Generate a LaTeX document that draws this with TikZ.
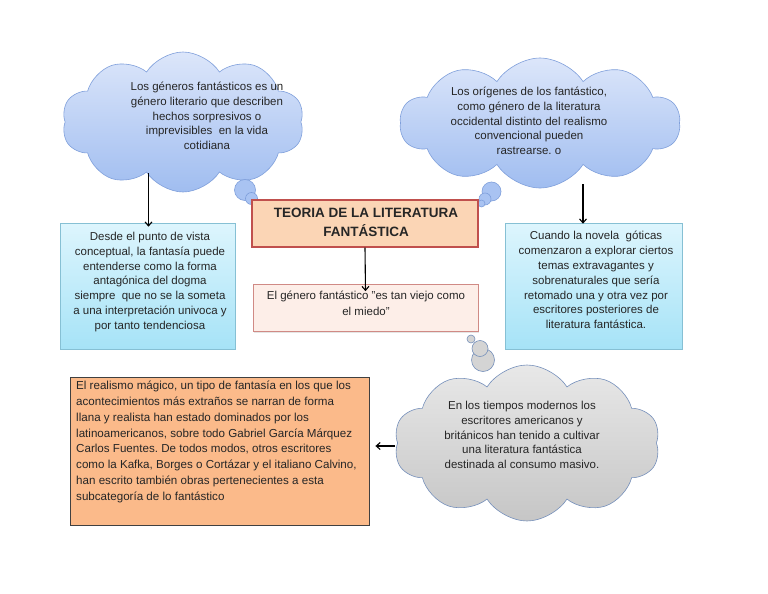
\documentclass[tikz,border=0pt]{standalone}
\usepackage{fontspec}
\setmainfont{Liberation Sans}
\usetikzlibrary{shapes.symbols,arrows.meta,shadows}
\frenchspacing
\definecolor{cbTop}{HTML}{DCE6FA}
\definecolor{cbBot}{HTML}{A0BDF0}
\definecolor{cbLine}{HTML}{7F9FDB}
\definecolor{cgTop}{HTML}{E8E8E8}
\definecolor{cgBot}{HTML}{C6C6C6}
\definecolor{cgLine}{HTML}{7690BB}
\definecolor{titFill}{HTML}{FBD5B5}
\definecolor{titLine}{HTML}{C0504D}
\definecolor{subFill}{HTML}{FDEEE8}
\definecolor{subLine}{HTML}{D08A85}
\definecolor{bxTop}{HTML}{DDF5FD}
\definecolor{bxBot}{HTML}{A6E3F7}
\definecolor{bxLine}{HTML}{86C0D4}
\definecolor{orFill}{HTML}{FBBA8A}
\definecolor{orLine}{HTML}{404040}
\tikzset{
  txt/.style={font=\fontsize{11.5}{14.7}\selectfont, align=center, inner sep=0pt, text=black!85},
  bluecloud/.style={cloud, cloud puffs=10, cloud puff arc=115, draw=cbLine, line width=0.6pt, top color=cbTop, bottom color=cbBot, inner sep=0pt},
  greycloud/.style={cloud, cloud puffs=10, cloud puff arc=115, draw=cgLine, line width=0.6pt, top color=cgTop, bottom color=cgBot, inner sep=0pt},
  bub/.style={circle, draw=cbLine, line width=0.6pt, fill=cbBot!85!cbTop, inner sep=0pt},
  gbub/.style={circle, draw=cgLine, line width=0.6pt, fill=cgBot!60!cgTop, inner sep=0pt},
  bluebox/.style={rectangle, draw=bxLine, line width=0.6pt, top color=bxTop, bottom color=bxBot, inner sep=0pt, drop shadow={shadow xshift=1pt, shadow yshift=-1pt, opacity=0.25}},
  arr/.style={-{Straight Barb[length=4pt,width=7pt]}, line width=1.1pt, black},
}
\begin{document}
\begin{tikzpicture}[x=1pt,y=-1pt]
\useasboundingbox (0,0) rectangle (768,594);
\fill[white] (0,0) rectangle (768,594);
% clouds
\node[bluecloud, minimum width=242, minimum height=140] (c1) at (183,122) {};
\node[bub, minimum size=21] (c1b1) at (245,190) {};
\node[bub, minimum size=12] (c1b2) at (251.5,198.5) {};
\node[bub, minimum size=7] (c1b3) at (254.5,203) {};
\node[txt] (c1t) at (207,116) {Los géneros fantásticos es un\\género literario que describen\\hechos sorpresivos o\\imprevisibles\ \ en la vida\\cotidiana};

\node[bluecloud, minimum width=280, minimum height=130] (c2) at (540,123) {};
\node[bub, minimum size=19] (c2b1) at (491.5,191.5) {};
\node[bub, minimum size=12] (c2b2) at (485,199) {};
\node[bub, minimum size=7] (c2b3) at (481.5,203.5) {};
\node[txt] (c2t) at (529,121) {Los orígenes de los fantástico,\\como género de la literatura\\occidental distinto del realismo\\convencional pueden\\rastrearse. o};

\node[greycloud, minimum width=266, minimum height=156] (c3) at (527,443) {};
\node[gbub, minimum size=23] (c3b1) at (483,360) {};
\node[gbub, minimum size=16] (c3b2) at (480,348.5) {};
\node[gbub, minimum size=8] (c3b3) at (471,339) {};
\node[txt] (c3t) at (522,435) {En los tiempos modernos los\\escritores americanos y\\británicos han tenido a cultivar\\una literatura fantástica\\destinada al consumo masivo.};

% title
\node[rectangle, draw=titLine, line width=1.4pt, fill=titFill, minimum width=226, minimum height=47, inner sep=0pt, drop shadow={shadow xshift=1pt, shadow yshift=-1pt, opacity=0.25}] (tit) at (365,223.5) {};
\node[txt, font=\fontsize{13.5}{18.3}\selectfont\bfseries] (titt) at (366,222.5) {TEORIA DE LA LITERATURA\\FANTÁSTICA};

\node[rectangle, draw=subLine, line width=0.7pt, fill=subFill, minimum width=225, minimum height=47, inner sep=0pt, drop shadow={shadow xshift=1pt, shadow yshift=-1pt, opacity=0.2}] (sub) at (365.5,308) {};
\node[txt, font=\fontsize{11.5}{15.5}\selectfont] (subt) at (366,303.5) {El género fantástico "es tan viejo como\\el miedo"};

% blue boxes
\node[bluebox, minimum width=175, minimum height=126] (lb) at (147.5,286) {};
\node[txt, font=\fontsize{11.5}{14.7}\selectfont] (lbt) at (150,282) {Desde el punto de vista\\conceptual, la fantasía puede\\entenderse como la forma\\antagónica del dogma\\siempre\ \ que no se la someta\\a una interpretación univoca y\\por tanto tendenciosa};

\node[bluebox, minimum width=177, minimum height=126] (rb) at (593.5,286) {};
\node[txt, font=\fontsize{11.5}{14.9}\selectfont] (rbt) at (596,280) {Cuando la novela\ \ góticas\\comenzaron a explorar ciertos\\temas extravagantes y\\sobrenaturales que sería\\retomado una y otra vez por\\escritores posteriores de\\literatura fantástica.};

% orange box
\node[rectangle, draw=orLine, line width=0.8pt, fill=orFill, minimum width=299, minimum height=148, inner sep=0pt] (ob) at (219.5,451) {};
\node[txt, align=left, anchor=west, font=\fontsize{11.6}{15.8}\selectfont] (obt) at (76,442) {El realismo mágico, un tipo de fantasía en los que los\\acontecimientos más extraños se narran de forma\\llana y realista han estado dominados por los\\latinoamericanos, sobre todo Gabriel García Márquez\\Carlos Fuentes. De todos modos, otros escritores\\como la Kafka, Borges o Cortázar y el italiano Calvino,\\han escrito también obras pertenecientes a esta\\subcategoría de lo fantástico};

% arrows
\coordinate (a1s) at (148.5,173);
\coordinate (a2s) at (583,184);
\coordinate (a3s) at (395,446);
\draw[arr] (a1s) -- ([yshift=-4]a1s |- lb.north);
\draw[arr] (a2s) -- ([yshift=-1]a2s |- rb.north);
\draw[arr] (tit.south) -- ([yshift=-7]sub.north);
\draw[arr] (a3s) -- ([xshift=6]ob.east |- a3s);
\end{tikzpicture}
\end{document}
